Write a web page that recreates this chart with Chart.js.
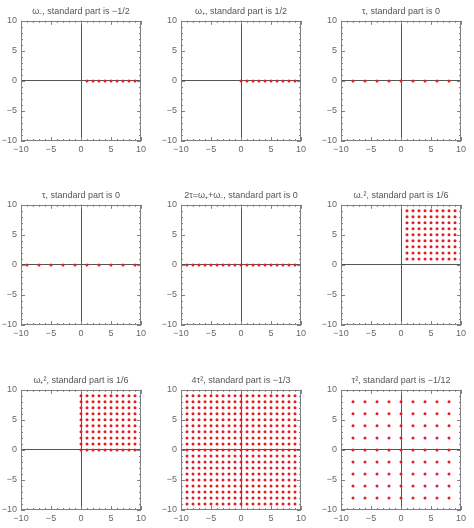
<!DOCTYPE html>
<html>
<head>
<meta charset="utf-8">
<script src="https://cdn.jsdelivr.net/npm/chart.js@4"></script>
<style>
  body { margin: 0; background: #fff; }
  #wrap { position: relative; width: 474px; height: 528px; }
  #wrap canvas { position: absolute; }
</style>
</head>
<body>
<div id="wrap"></div>
<script>
// values
const omegaMinus = [1, 2, 3, 4, 5, 6, 7, 8, 9];
const omegaPlus = [0, 1, 2, 3, 4, 5, 6, 7, 8, 9];
const tauEven = [-8, -6, -4, -2, 0, 2, 4, 6, 8];
const tauOdd = [-9, -7, -5, -3, -1, 1, 3, 5, 7, 9];
const twoTau = [-9, -8, -7, -6, -5, -4, -3, -2, -1, 0, 1, 2, 3, 4, 5, 6, 7, 8, 9];
const onAxis = [0];

const titles = [
    'ω\u208B, standard part is \u22121/2',
    'ω\u208A, standard part is 1/2',
    'τ, standard part is 0',
    'τ, standard part is 0',
    '2τ=ω\u208A+ω\u208B, standard part is 0',
    'ω\u208B\u00B2, standard part is 1/6',
    'ω\u208A\u00B2, standard part is 1/6',
    '4τ\u00B2, standard part is \u22121/3',
    'τ\u00B2, standard part is \u22121/12'
];
const panelX = [omegaMinus, omegaPlus, tauEven, tauOdd, twoTau, omegaMinus, omegaPlus, twoTau, tauEven];
const panelY = [onAxis, onAxis, onAxis, onAxis, onAxis, omegaMinus, omegaPlus, twoTau, tauEven];
const tickValues = [-10, -5, 0, 5, 10];

const colLeft = [0, 160, 320];
const rowTop = [0, 184, 369];
const FONT = 'Liberation Sans, Arial, sans-serif';

// frame with inward ticks, like the original
const framePlugin = {
    id: 'frame',
    afterDatasetsDraw(chart) {
        const { ctx, chartArea: a, scales } = chart;
        ctx.save();
        ctx.strokeStyle = '#808080';
        ctx.lineWidth = 1;
        ctx.strokeRect(Math.round(a.left) + 0.5, Math.round(a.top) + 0.5,
            Math.round(a.right - a.left) - 1, Math.round(a.bottom - a.top) - 1);
        ctx.beginPath();
        for (let v = -10; v <= 10; v++) {
            const len = v % 5 === 0 ? 4 : 2;
            const px = Math.round(scales.x.getPixelForValue(v)) + 0.5;
            const py = Math.round(scales.y.getPixelForValue(v)) + 0.5;
            ctx.moveTo(px, a.bottom); ctx.lineTo(px, a.bottom - len);
            ctx.moveTo(px, a.top); ctx.lineTo(px, a.top + len);
            ctx.moveTo(a.left, py); ctx.lineTo(a.left + len, py);
            ctx.moveTo(a.right, py); ctx.lineTo(a.right - len, py);
        }
        ctx.stroke();
        ctx.restore();
    }
};

function fmt(v) {
    return v < 0 ? '\u2212' + Math.abs(v) : String(v);
}

function axis(isX) {
    return {
        type: 'linear',
        min: -10,
        max: 10,
        afterBuildTicks: s => { s.ticks = tickValues.map(v => ({ value: v })); },
        afterFit: s => {
            if (isX) { s.height = 14; s.paddingLeft = 0; s.paddingRight = 0; }
            else { s.width = 21; s.paddingTop = 0; s.paddingBottom = 0; }
        },
        ticks: {
            padding: isX ? 3 : 4,
            color: '#666',
            font: { family: FONT, size: 9 },
            maxRotation: 0,
            autoSkip: false,
            callback: v => fmt(v)
        },
        grid: {
            drawTicks: false,
            color: c => c.tick && c.tick.value === 0 ? '#555' : 'rgba(0,0,0,0)',
            lineWidth: 1
        },
        border: { display: false }
    };
}

const wrap = document.getElementById('wrap');
titles.forEach((title, i) => {
    const canvas = document.createElement('canvas');
    canvas.width = 154;
    canvas.height = 155;
    canvas.style.left = colLeft[i % 3] + 'px';
    canvas.style.top = rowTop[Math.floor(i / 3)] + 'px';
    wrap.appendChild(canvas);

    const points = [];
    panelY[i].forEach(y => {
        panelX[i].forEach(x => points.push({ x: x, y: y }));
    });

    new Chart(canvas.getContext('2d'), {
        type: 'scatter',
        data: {
            datasets: [{
                data: points,
                backgroundColor: 'rgb(225, 30, 35)',
                borderWidth: 0,
                pointRadius: 1.5,
                pointHoverRadius: 1.5
            }]
        },
        options: {
            responsive: false,
            animation: false,
            layout: { padding: { left: 0, right: 13, top: 0, bottom: 0 } },
            plugins: {
                legend: { display: false },
                tooltip: { enabled: false },
                title: {
                    display: true,
                    fullSize: false,
                    text: title,
                    color: '#555',
                    font: { family: FONT, size: 9, weight: 'normal' },
                    padding: { top: 6, bottom: 4 }
                }
            },
            scales: { x: axis(true), y: axis(false) }
        },
        plugins: [framePlugin]
    });
});
</script>
</body>
</html>
